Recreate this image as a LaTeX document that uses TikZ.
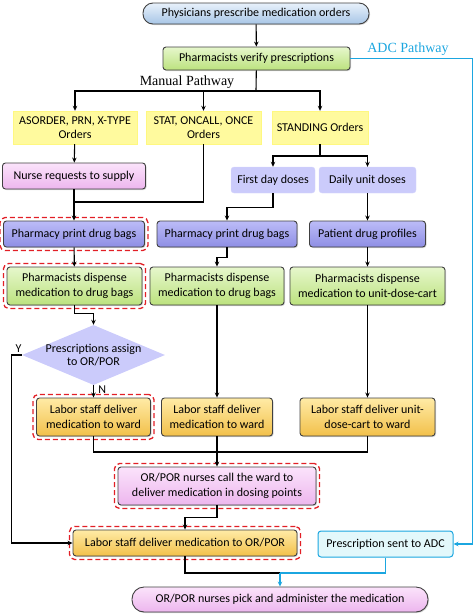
\documentclass[tikz,border=0pt]{standalone}
\usepackage{xcolor}
\usepackage{fontspec}
\setmainfont{Carlito}
\newfontfamily\pathfont{Liberation Serif}
\usepackage{tikz}
\usetikzlibrary{shapes.geometric, arrows.meta, positioning, fit, shadows}

\definecolor{bluetop}{HTML}{E8F1FB}
\definecolor{bluebot}{HTML}{A8C6E6}
\definecolor{greentop}{HTML}{E6F7CC}
\definecolor{greenbot}{HTML}{BCE27E}
\definecolor{ordyellow}{HTML}{FFFA9E}
\definecolor{pinktop}{HTML}{FBE3FB}
\definecolor{pinkbot}{HTML}{EDB6EE}
\definecolor{lavender}{HTML}{CBCBFB}
\definecolor{purptop}{HTML}{BCBCF8}
\definecolor{purpbot}{HTML}{8E8EE4}
\definecolor{goldtop}{HTML}{FFEBA6}
\definecolor{goldbot}{HTML}{F2C04A}
\definecolor{adcblue}{HTML}{1BA6E0}
\definecolor{adcfill}{HTML}{E3F8FB}
\definecolor{markred}{HTML}{E21F26}

\begin{document}
\begin{tikzpicture}[
        x=1pt, y=-1pt,
        font=\fontsize{12}{14.5}\selectfont,
        >={Stealth[length=5pt, width=4.5pt]},
        box/.style={draw=black!75, line width=0.9pt, rounded corners=3pt, align=center, inner sep=1pt,
            drop shadow={opacity=0.35, shadow xshift=1pt, shadow yshift=-1pt}},
        pill/.style={box, rounded corners=10pt, top color=bluetop, bottom color=bluebot},
        greenbox/.style={box, top color=greentop, bottom color=greenbot},
        pinkbox/.style={box, top color=pinktop, bottom color=pinkbot},
        purplebox/.style={box, top color=purptop, bottom color=purpbot},
        goldbox/.style={box, top color=goldtop, bottom color=goldbot},
        orderbox/.style={draw=yellow!50!white, fill=ordyellow, align=center, inner sep=1pt},
        dosebox/.style={draw=lavender!80!white, fill=lavender, rounded corners=3pt, align=center, inner sep=1pt},
        adcbox/.style={draw=adcblue, line width=1pt, fill=adcfill, rounded corners=3pt, align=center, inner sep=1pt},
        decision/.style={diamond, fill=lavender, align=center, inner xsep=-20pt, inner ysep=-10pt,
            minimum width=143pt, minimum height=60pt},
        redmark/.style={draw=markred, line width=1.3pt, dash pattern=on 5pt off 3pt, rounded corners=5pt, inner sep=3pt},
        link/.style={line width=1.1pt},
        adcline/.style={draw=adcblue, line width=1.4pt},
        pathlabel/.style={font=\pathfont\fontsize{14}{16}\selectfont}
    ]
        \useasboundingbox (0,0) rectangle (474,614);

        % Top of the flow
        \node[pill, minimum width=226pt, minimum height=21pt] (phys) at (256,13.5) {Physicians prescribe medication orders};
        \node[greenbox, minimum width=187pt, minimum height=23pt] (verify) at (256.5,58.5) {Pharmacists verify prescriptions};
        \node[pathlabel] (manual) at (187,82) {Manual Pathway};
        \node[pathlabel, text=adcblue] (adcpath) at (408,49) {ADC Pathway};

        % Order types
        \node[orderbox, minimum width=124pt, minimum height=33pt] (asorder) at (75,127.5) {ASORDER, PRN, X-TYPE\\Orders};
        \node[orderbox, minimum width=115pt, minimum height=33pt] (stat) at (203.5,127.5) {STAT, ONCALL, ONCE\\Orders};
        \node[orderbox, minimum width=96pt, minimum height=33pt] (standing) at (320,127.5) {STANDING Orders};

        \node[pinkbox, minimum width=143pt, minimum height=26pt] (nurse) at (74,176) {Nurse requests to supply};
        \node[dosebox, minimum width=84pt, minimum height=26pt] (first) at (273,180) {First day doses};
        \node[dosebox, minimum width=97pt, minimum height=26pt] (daily) at (367.5,180) {Daily unit doses};

        % Printing and dispensing
        \node[purplebox, minimum width=141pt, minimum height=26pt] (printA) at (74,234) {Pharmacy print drug bags};
        \node[purplebox, minimum width=140pt, minimum height=26pt] (printB) at (227,234) {Pharmacy print drug bags};
        \node[purplebox, minimum width=116pt, minimum height=26pt] (profiles) at (367.5,234) {Patient drug profiles};

        \node[greenbox, minimum width=135pt, minimum height=38pt] (dispA) at (74.5,286) {Pharmacists dispense\\medication to drug bags};
        \node[greenbox, minimum width=134pt, minimum height=38pt] (dispB) at (217,286) {Pharmacists dispense\\medication to drug bags};
        \node[greenbox, minimum width=155pt, minimum height=38pt] (dispC) at (367.5,286) {Pharmacists dispense\\medication to unit-dose-cart};

        \node[decision] (assign) at (93.5,355) {\raisebox{-4pt}{\shortstack{Prescriptions assign\\to OR/POR}}};

        % Delivery
        \node[goldbox, minimum width=114pt, minimum height=38pt] (labA) at (93.5,417) {Labor staff deliver\\medication to ward};
        \node[goldbox, minimum width=111pt, minimum height=38pt] (labB) at (217,417) {Labor staff deliver\\medication to ward};
        \node[goldbox, minimum width=135pt, minimum height=38pt] (labC) at (367.5,417) {Labor staff deliver unit-\\dose-cart to ward};

        \node[pinkbox, minimum width=198pt, minimum height=38pt] (call) at (217,486) {OR/POR nurses call the ward to\\deliver medication in dosing points};
        \node[goldbox, minimum width=224pt, minimum height=26pt] (labOR) at (185,543) {Labor staff deliver medication to OR/POR};
        \node[adcbox, minimum width=135pt, minimum height=26pt] (adc) at (385.5,544) {Prescription sent to ADC};
        \node[pinkbox, rounded corners=12pt, minimum width=296pt, minimum height=25pt] (final) at (280,599.5) {OR/POR nurses pick and administer the medication};

        % Red dashed marks
        \node[redmark, fit=(printA)] (markA) {};
        \node[redmark, fit=(dispA)] (markB) {};
        \node[redmark, fit=(labA)] (markC) {};
        \node[redmark, fit=(call)] (markD) {};
        \node[redmark, fit=(labOR)] (markE) {};

        % Junction points
        \coordinate (split) at (256,91);
        \coordinate (statjoin) at (74,202);
        \coordinate (standsplit) at (320,156);
        \coordinate (wardjoin) at (367.5,452);
        \coordinate (finaljoin) at (280,573);
        \coordinate (adcturn) at (472.5,544);

        % Arrows
        \draw[link, ->] (phys) -- (verify);
        \draw[link] (verify) -- (split);
        \draw[link, ->] (split) -| (asorder);
        \draw[link, ->] (split) -| (stat);
        \draw[link, ->] (split) -| (standing);
        \draw[link, ->] (asorder) -- (nurse);
        \draw[link] (stat) |- (statjoin);
        \draw[link, ->] (nurse) -- (printA);
        \draw[link] (standing) -- (standsplit);
        \draw[link, ->] (standsplit) -| (first);
        \draw[link, ->] (standsplit) -| (daily);
        \draw[link, ->] (first.south) -- ++(0,14) -| (printB.north);
        \draw[link, ->] (daily) -- (profiles);
        \draw[link, ->] (printA) -- (dispA);
        \draw[link, ->] (printB.south) -- ++(0,10) -| (dispB.north);
        \draw[link, ->] (profiles) -- (dispC);
        \draw[link, ->] (dispA.south) -- ++(0,8) -| (assign.north);
        \draw[link, ->] (dispB) -- (labB);
        \draw[link, ->] (dispC) -- (labC);
        \draw[link, ->] (assign) -- node[pos=0.4, right=1pt] (nolabel) {N} (labA);
        \draw[link, ->] (assign.west) -- ++(-10,0) node[above right=-1pt and 0pt] (yeslabel) {Y} |- (labOR.west);
        \draw[link] (labA.south) |- (wardjoin) -- (labC.south);
        \draw[link, ->] (labB) -- (call);
        \draw[link, ->] (call.south) -- ++(0,12) -| (labOR.north);
        \draw[link] (labOR.south) |- (finaljoin);
        \draw[adcline] (adc.south) |- (finaljoin);
        \draw[adcline, ->] (finaljoin) -- (final.north);
        \draw[adcline, ->] (verify.east) -| (adcturn) -- (adc.east);
    \end{tikzpicture}
\end{document}
